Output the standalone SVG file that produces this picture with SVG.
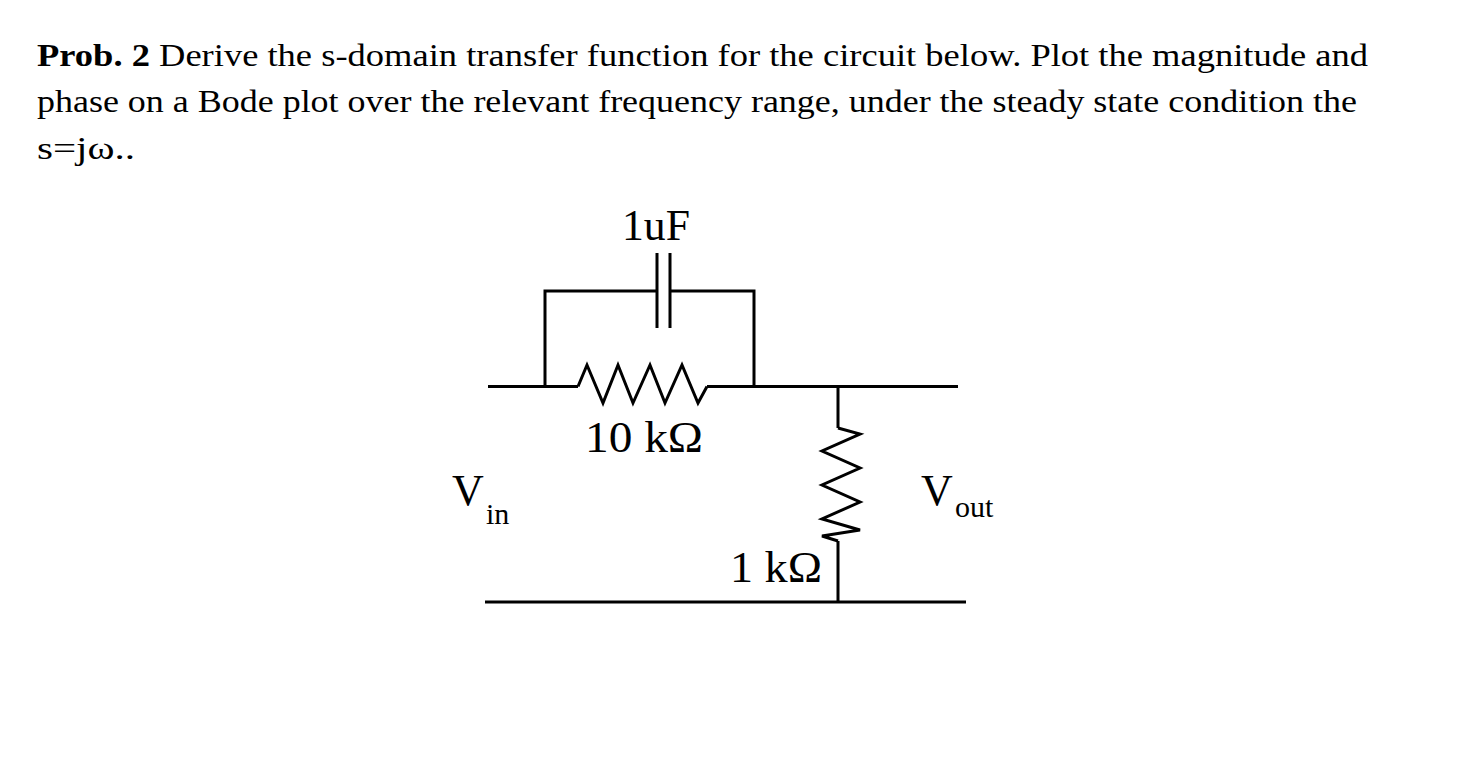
<svg xmlns="http://www.w3.org/2000/svg" width="1468" height="778" viewBox="0 0 1468 778">
<style>
text{font-family:"Liberation Serif","Times New Roman",serif;fill:#000}
.h{font-size:32px}
.l{font-size:44px}
.s{font-size:30px}
.w{fill:none;stroke:#000;stroke-width:3}
</style>
<rect width="1468" height="778" fill="#fff"/>
<text class="h" x="37" y="66" textLength="1331" lengthAdjust="spacingAndGlyphs"><tspan font-weight="bold">Prob. 2</tspan>  Derive the s-domain transfer function for the circuit below.  Plot the magnitude and</text>
<text class="h" x="37" y="112" textLength="1320" lengthAdjust="spacingAndGlyphs">phase on a Bode plot over the relevant frequency range, under the steady state condition the</text>
<text class="h" x="37" y="159" textLength="98" lengthAdjust="spacingAndGlyphs">s=jω..</text>
<g id="connectors">
<path class="w" d="M488 386.5H578 M545 386.5V291H657 M670 291H754V386.5 M707 386.5H958 M838 386.5V428 M838 541V602 M485 602H966"/>
</g>
<g id="C1"><path class="w" d="M657 253V328 M670 253V328"/><text class="l" x="622" y="240" textLength="68" lengthAdjust="spacingAndGlyphs">1uF</text></g>
<g id="R1"><path class="w" d="M578 386.5L587 365L603 403L618 365L633 403L650 365L665 403L682 365L698 403L707 386.5"/><text class="l" x="585" y="452" textLength="118" lengthAdjust="spacingAndGlyphs">10 kΩ</text></g>
<g id="R2"><path class="w" d="M838 428L860 434L822 451L860 468L822 485L860 502L822 519L860 530L822 536L838 541"/><text class="l" x="730" y="582" textLength="92" lengthAdjust="spacingAndGlyphs">1 kΩ</text></g>
<g id="Vin"><text class="l" x="452" y="505">V</text><text class="s" x="486" y="524">in</text></g>
<g id="Vout"><text class="l" x="921" y="505">V</text><text class="s" x="955" y="517">out</text></g>
</svg>
